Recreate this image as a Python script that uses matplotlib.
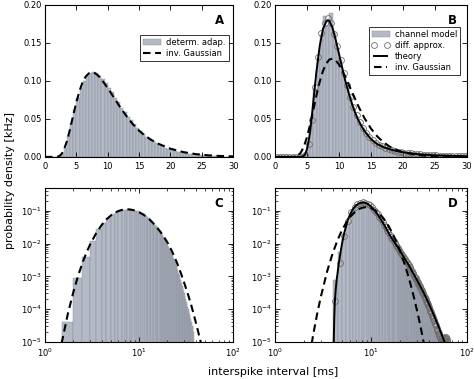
import numpy as np
import matplotlib
matplotlib.use("Agg")
import matplotlib.pyplot as plt

# histogram bins: 0.5 ms wide, starting at 0 ms
bin_width = 0.5

# A / C : deterministic adaptation histogram (kHz)
hist_adap = [0.0, 0.0, 0.0, 4e-5, 9e-4, 4e-3, 0.012, 0.027, 0.044, 0.062,
             0.078, 0.091, 0.100, 0.106, 0.110, 0.112, 0.110, 0.107, 0.102, 0.097,
             0.091, 0.085, 0.078, 0.072, 0.065, 0.059, 0.053, 0.048, 0.043, 0.038,
             0.034, 0.030, 0.0265, 0.0235, 0.0205, 0.018, 0.0158, 0.0138, 0.012, 0.0105,
             0.0091, 0.0079, 0.0068, 0.0059, 0.0051, 0.0044, 0.0037, 0.0032, 0.0027, 0.0023,
             0.0019, 0.0016, 0.0013, 0.0011, 0.0009, 0.00075, 0.00062, 0.00052, 0.00043, 0.00036,
             0.0003, 0.00025, 0.00021, 0.00017, 0.00014, 0.00012, 0.0001, 9e-5, 7e-5, 6e-5,
             5e-5, 4e-5, 4e-5, 3e-5, 3e-5, 2e-5]

# inverse Gaussian fit, panels A / C
ig_adap_t = [0.0, 1.5, 1.75, 2.0, 2.25, 2.5, 2.75, 3.0, 3.5, 4.0, 4.5, 5.0, 5.5, 6.0, 6.5,
             7.0, 7.5, 8.0, 8.5, 9.0, 10, 11, 12, 13, 14, 15, 16, 17, 18, 20, 22, 24,
             26, 28, 30, 33, 36, 40, 45, 50]
ig_adap_p = [0.0, 9e-6, 7.3e-5, 3.3e-4, 1.05e-3, 2.6e-3, 5.2e-3, 9.2e-3, 0.021, 0.037,
             0.055, 0.072, 0.087, 0.0985, 0.106, 0.110, 0.1115, 0.110, 0.1068, 0.102,
             0.0905, 0.078, 0.065, 0.0535, 0.043, 0.0345, 0.0275, 0.022, 0.0175, 0.0108,
             0.0064, 0.0037, 0.0021, 0.00118, 0.00066, 0.00029, 1.25e-4, 4e-5, 1.03e-5, 2.7e-6]

# B / D : channel model histogram
hist_chan = [0.0] * 8 + [
    7.5e-4, 5.5e-3, 0.019, 0.047, 0.090, 0.130, 0.160, 0.185, 0.172, 0.190,
    0.163, 0.143, 0.127, 0.108, 0.093, 0.079, 0.065, 0.054, 0.045, 0.038,
    0.031, 0.026, 0.0215, 0.018, 0.0157, 0.0139, 0.0121, 0.0106, 0.0094, 0.0083,
    0.0073, 0.0065, 0.0058, 0.0051, 0.0046, 0.0041, 0.0036, 0.0032, 0.0029, 0.0026,
    0.0023, 0.0021, 0.0019, 0.0017, 0.0015, 0.00135, 0.0012, 0.0011, 0.00097, 0.00088,
    0.00079, 0.00071, 0.00064, 0.00058, 0.00052, 0.00047, 0.00043, 0.00039, 0.00035, 0.00032,
    0.00029, 0.00026, 0.00024, 0.00021, 0.00019, 0.00017, 0.00016, 0.00014, 0.00013, 0.00012,
    0.00011, 9.6e-5, 8.8e-5, 7.9e-5, 7.2e-5, 6.4e-5, 5.8e-5, 5.2e-5, 4.6e-5, 4.2e-5,
    3.6e-5, 3.3e-5, 2.8e-5, 2.6e-5, 2.2e-5, 2e-5, 1.8e-5, 1.6e-5, 1.5e-5, 1.2e-5,
    1.4e-5, 1.1e-5, 1e-5]

# diffusion approximation (values at bin centres)
diff_approx = [0.0] * 8 + [
    1.8e-4, 2.5e-3, 0.017, 0.048, 0.092, 0.131, 0.163, 0.176, 0.183, 0.176,
    0.162, 0.146, 0.128, 0.110, 0.094, 0.079, 0.066, 0.055, 0.046, 0.038,
    0.032, 0.0265, 0.022, 0.0185, 0.0158, 0.0137, 0.0118, 0.0104, 0.0091, 0.0081,
    0.0071, 0.0064, 0.0057, 0.0051, 0.0045, 0.0041, 0.0036, 0.0033, 0.0029, 0.0027,
    0.0024, 0.0022, 0.0020, 0.0018, 0.0016, 0.00145, 0.0013, 0.00118, 0.00106, 0.00096,
    0.00087, 0.00079, 0.00072, 0.00066, 0.0006, 0.00055, 0.0005, 0.00045, 0.00041, 0.00038,
    0.00034, 0.00031, 0.00029, 0.00026, 0.00024, 0.00022, 0.0002, 0.00018, 0.000165, 0.00015,
    0.00014, 0.000127, 0.000116, 0.000106, 9.7e-5, 8.8e-5, 8e-5, 7.4e-5, 6.7e-5, 6.1e-5,
    5.6e-5, 5.1e-5, 4.6e-5, 4.3e-5, 3.9e-5, 3.5e-5, 3.3e-5, 3e-5, 2.7e-5, 2.5e-5,
    2.3e-5, 2.1e-5, 1.9e-5, 1.8e-5, 1.6e-5, 1.5e-5, 1.4e-5, 1.3e-5, 1.2e-5, 1.25e-5,
    1.1e-5, 1.15e-5, 1.3e-5, 1.05e-5, 1.2e-5, 1.1e-5, 1.4e-5, 1.0e-5, 1.2e-5, 1.1e-5,
    1.3e-5, 1.05e-5, 1.4e-5, 1.2e-5, 1.3e-5, 1.1e-5, 1.25e-5]

# theory curve
theory_t = [0.0, 4.0, 4.06, 4.1, 4.15, 4.2, 4.3, 4.4, 4.5, 4.6, 4.75, 5.0, 5.25, 5.5,
            5.75, 6.0, 6.5, 7.0, 7.5, 8.0, 8.25, 8.5, 9.0, 9.5, 10.0, 10.5, 11.0, 11.5,
            12.0, 12.5, 13.0, 13.5, 14.0, 15.0, 16.0, 17.0, 18.0, 19.0, 20.0, 22.0,
            25.0, 30.0, 35.0, 40.0, 45.0, 50.0, 55.0, 60.0, 65.0]
theory_p = [0.0, 0.0, 1e-6, 1e-5, 5e-5, 1.5e-4, 4e-4, 8e-4, 1.3e-3, 2.2e-3, 4e-3, 0.010,
            0.020, 0.033, 0.052, 0.073, 0.113, 0.146, 0.168, 0.178, 0.180, 0.179, 0.170,
            0.154, 0.136, 0.118, 0.100, 0.085, 0.071, 0.059, 0.049, 0.041, 0.034, 0.0235,
            0.0168, 0.0128, 0.0099, 0.0078, 0.0062, 0.0039, 0.0021, 8e-4, 3.4e-4, 1.5e-4,
            6.8e-5, 3.2e-5, 1.6e-5, 8e-6, 4e-6]

# inverse Gaussian fit, panels B / D
ig_chan_t = [0.0, 2.2, 2.5, 2.75, 3.0, 3.5, 4.0, 4.5, 5.0, 5.5, 6.0, 6.5, 7.0, 7.5, 8.0,
             8.5, 9.0, 9.5, 10, 11, 12, 13, 14, 15, 16, 17, 18, 19, 20, 22, 24, 26,
             28, 30, 33, 36, 40]
ig_chan_p = [0.0, 1.65e-6, 1.6e-5, 7e-5, 2.3e-4, 1.43e-3, 5.1e-3, 0.013, 0.0257, 0.0425,
             0.0618, 0.0813, 0.0988, 0.1129, 0.1227, 0.1281, 0.1293, 0.1269, 0.1217, 0.1055,
             0.0863, 0.0674, 0.0509, 0.0374, 0.0269, 0.019, 0.01325, 0.00912, 0.00622, 0.00283,
             0.001255, 5.5e-4, 2.36e-4, 1.0e-4, 2.8e-5, 7.5e-6, 1.5e-6]

bar_face = '#b4bac5'
bar_edge = '#878d98'
ig_style = dict(color='k', ls=(0, (3.6, 2.2)), lw=1.5)
theory_style = dict(color='k', ls='-', lw=1.4)

plt.rcParams['font.family'] = ['DejaVu Sans']
plt.rcParams['font.size'] = 6
plt.rcParams['mathtext.default'] = 'regular'

fig = plt.figure(figsize=(4.74, 3.79), dpi=100)
axA = fig.add_axes([0.095, 0.586, 0.397, 0.401])
axB = fig.add_axes([0.580, 0.586, 0.405, 0.401])
axC = fig.add_axes([0.095, 0.098, 0.397, 0.406])
axD = fig.add_axes([0.580, 0.098, 0.405, 0.406])

for ax in (axC, axD):
    ax.set_xscale('log')
    ax.set_yscale('log')


def pos(vals):
    # hide zero values on the log panels
    return np.ma.masked_less_equal(np.asarray(vals, dtype=float), 0)


def bars(ax, vals, label=None):
    left = np.arange(len(vals)) * bin_width
    if ax.get_xscale() == 'log':
        left = left[1:]
        vals = vals[1:]
    return ax.bar(left, vals, width=bin_width, align='edge', color=bar_face,
                  edgecolor=bar_edge, lw=0.3, label=label)


def circles(ax, vals, label=None):
    mid = np.arange(len(vals)) * bin_width + bin_width / 2
    if ax.get_yscale() == 'log':
        vals = pos(vals)
    return ax.plot(mid, vals, 'o', ms=4.2, mfc='none', mec='#6e6e6e', mew=0.6,
                   label=label)[0]


def curve(ax, t, p, style, label=None):
    if ax.get_yscale() == 'log':
        p = pos(p)
    return ax.plot(t, p, label=label, **style)[0]


# A
hA1 = bars(axA, hist_adap, 'determ. adap.')
hA2 = curve(axA, ig_adap_t, ig_adap_p, ig_style, 'inv. Gaussian')
# B
hB1 = bars(axB, hist_chan, 'channel model')
hB2 = circles(axB, diff_approx, 'diff. approx.')
hB3 = curve(axB, theory_t, theory_p, theory_style, 'theory')
hB4 = curve(axB, ig_chan_t, ig_chan_p, ig_style, 'inv. Gaussian')
# C
bars(axC, hist_adap)
curve(axC, ig_adap_t, ig_adap_p, ig_style)
# D
bars(axD, hist_chan)
circles(axD, diff_approx)
curve(axD, theory_t, theory_p, theory_style)
curve(axD, ig_chan_t, ig_chan_p, ig_style)

for ax in (axA, axB):
    ax.set_xlim(0, 30)
    ax.set_ylim(0, 0.2)
    ax.set_xticks(range(0, 31, 5))
    ax.set_yticks([0.0, 0.05, 0.10, 0.15, 0.20])
    ax.yaxis.set_major_formatter(matplotlib.ticker.FormatStrFormatter('%.2f'))

for ax in (axC, axD):
    ax.set_xlim(1, 100)
    ax.set_ylim(1e-5, 0.5)

for ax, letter in zip((axA, axB, axC, axD), 'ABCD'):
    ax.tick_params(which='both', direction='in', top=True, right=True, labelsize=6)
    ax.tick_params(axis='y', which='both', pad=2)
    ax.tick_params(axis='x', which='both', pad=3.5)
    ax.tick_params(which='major', length=3.5, width=0.6)
    ax.tick_params(which='minor', length=1.8, width=0.5)
    for s in ax.spines.values():
        s.set_linewidth(0.8)
    ax.text(0.925, 0.90, letter, transform=ax.transAxes, fontsize=8.5,
            fontweight='bold', ha='center', va='center')

leg_kw = dict(fontsize=6, frameon=True, fancybox=False, edgecolor='k',
              handlelength=2.2, borderpad=0.35, labelspacing=0.25, handletextpad=0.6,
              borderaxespad=0.0)
lA = axA.legend([hA1, hA2], ['determ. adap.', 'inv. Gaussian'],
                loc='upper right', bbox_to_anchor=(0.975, 0.80), **leg_kw)
lB = axB.legend([hB1, hB2, hB3, hB4],
                ['channel model', 'diff. approx.', 'theory', 'inv. Gaussian'],
                loc='upper right', bbox_to_anchor=(0.965, 0.855), numpoints=2, **leg_kw)
for lg in (lA, lB):
    lg.get_frame().set_linewidth(0.7)

fig.text(0.022, 0.525, 'probability density [kHz]', rotation=90,
         ha='center', va='center', fontsize=8)
fig.text(0.577, 0.018, 'interspike interval [ms]', ha='center', va='center', fontsize=8)

fig.savefig('out.png', dpi=100)
